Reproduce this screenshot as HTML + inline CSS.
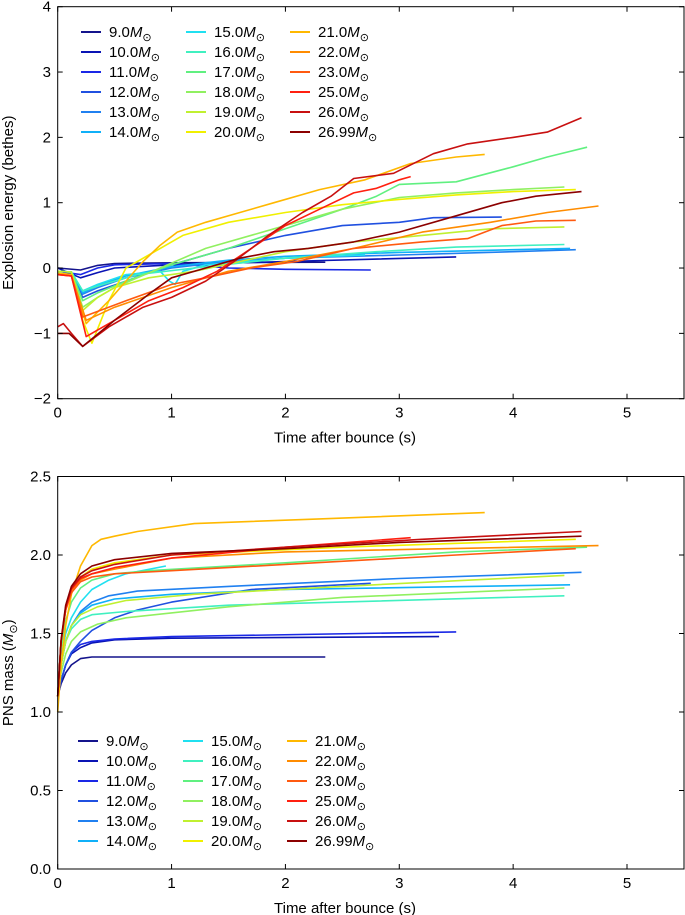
<!DOCTYPE html>
<html><head><meta charset="utf-8"><style>
html,body{margin:0;padding:0;background:#fff;}
svg{display:block;font-family:"Liberation Sans",sans-serif;}
</style></head><body>
<svg id="c" width="685" height="915"></svg>
<script>
const labels=["9.0","10.0","11.0","12.0","13.0","14.0","15.0","16.0","17.0","18.0","19.0","20.0","21.0","22.0","23.0","25.0","26.0","26.99"];
const colors=["#14148c","#0a14b4","#1a28e6","#2050e0","#2080f0","#10b0f8","#20e0f0","#40f0c0","#60f080","#90f060","#c0f030","#f0f000","#ffb800","#ff8c00","#ff5a10","#ff2010","#c81010","#8c0000"];
const energyTicks=[-2,-1,0,1,2,3,4];
const massTicks=[0.0,0.5,1.0,1.5,2.0,2.5];
const timeTicks=[0,1,2,3,4,5];
const energy=[
[[0,0],[0.2,-0.03],[0.35,0.04],[0.5,0.07],[1,0.08],[2.35,0.09]],
[[0,0],[0.2,-0.15],[0.35,-0.07],[0.5,0],[1,0.05],[2,0.1],[3.5,0.17]],
[[0,-0.05],[0.2,-0.1],[0.35,0],[0.5,0.05],[1,0.07],[1.5,0],[2,-0.02],[2.75,-0.03]],
[[0,-0.05],[0.12,-0.06],[0.22,-0.45],[0.35,-0.35],[0.6,-0.2],[1,0.05],[1.5,0.3],[2,0.5],[2.5,0.65],[3,0.7],[3.3,0.77],[3.9,0.78]],
[[0,-0.05],[0.12,-0.06],[0.22,-0.4],[0.35,-0.3],[0.6,-0.15],[1,0],[1.5,0.1],[2,0.15],[3,0.2],[4,0.25],[4.55,0.28]],
[[0,-0.05],[0.12,-0.06],[0.22,-0.38],[0.35,-0.27],[0.6,-0.12],[1,0.02],[1.5,0.12],[2,0.18],[3,0.24],[4,0.28],[4.5,0.3]],
[[0,-0.05],[0.12,-0.06],[0.22,-0.35],[0.35,-0.25],[0.6,-0.1],[0.9,-0.05],[0.98,-0.2],[1.03,-0.25],[1.1,-0.05],[1.3,0.05],[2,0.15],[2.7,0.2]],
[[0,-0.05],[0.12,-0.06],[0.22,-0.35],[0.4,-0.25],[0.7,-0.1],[1.2,0],[2,0.15],[2.8,0.25],[3.5,0.32],[4.45,0.36]],
[[0,-0.05],[0.12,-0.06],[0.22,-0.5],[0.35,-0.38],[0.6,-0.2],[1,0.05],[1.5,0.3],[2,0.6],[2.5,0.9],[2.8,1.1],[3,1.28],[3.5,1.32],[4,1.55],[4.3,1.7],[4.65,1.85]],
[[0,-0.05],[0.12,-0.06],[0.22,-0.6],[0.35,-0.45],[0.5,-0.3],[0.9,0],[1.3,0.3],[1.9,0.6],[2.5,0.9],[3,1.08],[3.5,1.15],[4,1.2],[4.45,1.24]],
[[0,-0.05],[0.12,-0.06],[0.22,-0.65],[0.35,-0.45],[0.5,-0.3],[0.8,-0.15],[1.2,-0.05],[1.6,0.1],[2,0.25],[2.6,0.4],[3.2,0.5],[3.8,0.6],[4.45,0.63]],
[[0,-0.08],[0.12,-0.1],[0.22,-0.8],[0.3,-1.15],[0.45,-0.5],[0.6,0],[0.8,0.2],[1.1,0.5],[1.5,0.7],[2,0.85],[2.5,0.97],[3,1.05],[3.5,1.12],[4,1.17],[4.55,1.2]],
[[0,-0.08],[0.12,-0.1],[0.25,-0.85],[0.45,-0.5],[0.75,0.1],[0.9,0.35],[1.05,0.55],[1.3,0.7],[1.6,0.85],[1.9,1.0],[2.3,1.2],[2.7,1.35],[3.1,1.6],[3.5,1.7],[3.75,1.74]],
[[0,-0.1],[0.12,-0.12],[0.25,-0.8],[0.5,-0.6],[1,-0.3],[1.5,-0.05],[2,0.1],[2.6,0.3],[3.2,0.55],[3.8,0.7],[4.3,0.85],[4.75,0.95]],
[[0,-0.1],[0.12,-0.12],[0.22,-0.75],[0.6,-0.5],[1,-0.25],[1.3,-0.15],[1.7,0],[2.1,0.1],[2.6,0.3],[3.2,0.4],[3.6,0.45],[3.9,0.65],[4.2,0.72],[4.55,0.73]],
[[0,-0.1],[0.12,-0.12],[0.25,-1.05],[0.45,-0.85],[0.8,-0.5],[1.1,-0.3],[1.4,-0.05],[1.7,0.3],[2,0.65],[2.3,0.9],[2.6,1.15],[2.8,1.22],[3,1.35],[3.1,1.4]],
[[0,-0.9],[0.05,-0.85],[0.12,-1.0],[0.22,-1.2],[0.45,-0.9],[0.75,-0.6],[1,-0.45],[1.3,-0.2],[1.55,0.1],[1.85,0.5],[2.15,0.85],[2.4,1.1],[2.6,1.37],[2.95,1.45],[3.3,1.75],[3.6,1.9],[4,2.0],[4.3,2.08],[4.6,2.3]],
[[0,-1.0],[0.1,-1.0],[0.22,-1.2],[0.5,-0.8],[0.8,-0.4],[1,-0.15],[1.3,0],[1.6,0.15],[1.9,0.25],[2.2,0.3],[2.6,0.4],[3,0.55],[3.5,0.8],[3.9,1.0],[4.2,1.1],[4.6,1.17]]
];
const mass=[
[[0,1.1],[0.03,1.18],[0.07,1.25],[0.12,1.3],[0.2,1.34],[0.3,1.35],[1,1.35],[2.35,1.35]],
[[0,1.1],[0.03,1.2],[0.07,1.3],[0.12,1.37],[0.2,1.41],[0.3,1.44],[0.5,1.46],[1,1.47],[3.35,1.48]],
[[0,1.1],[0.03,1.2],[0.07,1.3],[0.12,1.38],[0.2,1.43],[0.3,1.45],[0.5,1.465],[1,1.48],[3.5,1.51]],
[[0,1.1],[0.03,1.2],[0.07,1.3],[0.12,1.38],[0.2,1.45],[0.3,1.52],[0.5,1.6],[0.7,1.65],[1,1.7],[1.7,1.78],[2.75,1.82]],
[[0,1.1],[0.03,1.3],[0.07,1.45],[0.12,1.55],[0.2,1.64],[0.3,1.7],[0.45,1.74],[0.7,1.77],[1.5,1.8],[3,1.85],[4.6,1.89]],
[[0,1.1],[0.03,1.3],[0.07,1.45],[0.12,1.55],[0.2,1.63],[0.3,1.68],[0.5,1.72],[1,1.75],[2,1.78],[4.5,1.81]],
[[0,1.1],[0.03,1.35],[0.07,1.5],[0.12,1.6],[0.2,1.7],[0.3,1.78],[0.45,1.84],[0.6,1.88],[0.95,1.93]],
[[0,1.1],[0.03,1.3],[0.07,1.45],[0.12,1.53],[0.2,1.59],[0.3,1.62],[0.6,1.64],[1.5,1.68],[4.45,1.74]],
[[0,1.1],[0.03,1.4],[0.07,1.58],[0.12,1.7],[0.2,1.79],[0.3,1.84],[0.5,1.88],[0.8,1.9],[2,1.95],[3.5,2.02],[4.65,2.05]],
[[0,1.1],[0.03,1.25],[0.07,1.37],[0.12,1.45],[0.2,1.51],[0.35,1.56],[0.6,1.6],[1.5,1.67],[2.5,1.73],[4.45,1.79]],
[[0,1.1],[0.03,1.3],[0.07,1.45],[0.12,1.55],[0.2,1.62],[0.35,1.67],[0.6,1.71],[1.2,1.75],[2.5,1.8],[4.45,1.87]],
[[0,1.1],[0.03,1.45],[0.07,1.65],[0.12,1.77],[0.2,1.86],[0.3,1.91],[0.5,1.95],[1,2.0],[2.5,2.05],[4.55,2.1]],
[[0,1.0],[0.03,1.3],[0.07,1.55],[0.12,1.75],[0.2,1.93],[0.3,2.06],[0.38,2.1],[0.5,2.12],[0.7,2.15],[1.2,2.2],[2.3,2.23],[3.75,2.27]],
[[0,1.1],[0.03,1.45],[0.07,1.65],[0.12,1.76],[0.2,1.84],[0.3,1.88],[0.5,1.91],[1,1.98],[2,2.02],[4.75,2.06]],
[[0,1.1],[0.03,1.45],[0.07,1.65],[0.12,1.76],[0.2,1.83],[0.3,1.86],[0.5,1.88],[1,1.9],[2,1.94],[3.5,2.0],[4.55,2.04]],
[[0,1.1],[0.03,1.45],[0.07,1.66],[0.12,1.78],[0.2,1.85],[0.3,1.88],[0.5,1.92],[1,1.98],[2,2.05],[3.1,2.11]],
[[0,1.1],[0.03,1.45],[0.07,1.67],[0.12,1.79],[0.2,1.86],[0.3,1.9],[0.5,1.94],[1,2.0],[2,2.05],[3.2,2.1],[4.6,2.15]],
[[0,1.1],[0.03,1.46],[0.07,1.68],[0.12,1.8],[0.2,1.88],[0.3,1.93],[0.5,1.97],[1,2.01],[2,2.04],[3,2.08],[4.6,2.12]]
];
const NS="http://www.w3.org/2000/svg";
const svg=document.getElementById('c');
function mk(tag,attrs,parent){const e=document.createElementNS(NS,tag);for(const k in attrs)e.setAttribute(k,attrs[k]);(parent||svg).appendChild(e);return e;}
function panel(o){
  const g=mk('g',{});
  
  
  const L=57.7,R=684,T=o.top,B=o.bot;
  const xs=t=>L+t*(627-L)/5;
  const ys=v=>B-(v-o.ymin)/(o.ymax-o.ymin)*(B-T);
  o.data.forEach((s,i)=>{
    const p=mk('path',{d:s.map((d,j)=>(j?'L':'M')+xs(d[0]).toFixed(1)+','+ys(d[1]).toFixed(1)).join(''),fill:'none',stroke:colors[i],'stroke-width':1.6,'stroke-linejoin':'round'},g);
    
    
  });
  const fr=mk('rect',{x:L,y:T,width:R-L,height:B-T,fill:'none',stroke:'#000','stroke-width':1},g);
  
  
  timeTicks.forEach(t=>{
    const x=xs(t);
    mk('line',{x1:x,x2:x,y1:B,y2:B-5,stroke:'#000'},g);
    mk('line',{x1:x,x2:x,y1:T,y2:T+5,stroke:'#000'},g);
    const tx=mk('text',{x:x,y:B+19,'font-size':15,'text-anchor':'middle'},g);
    tx.textContent=t;
    
    
  });
  o.ticks.forEach(v=>{
    const y=ys(v);
    mk('line',{x1:L,x2:L+5,y1:y,y2:y,stroke:'#000'},g);
    mk('line',{x1:R,x2:R-5,y1:y,y2:y,stroke:'#000'},g);
    const tx=mk('text',{x:51,y:y+5,'font-size':15,'text-anchor':'end'},g);
    tx.textContent=o.fmt(v);
    
    
  });
  const xt=mk('text',{x:345,y:B+44,'font-size':15,'text-anchor':'middle'},g);
  xt.textContent='Time after bounce (s)';
  
  
  const yt=mk('text',{transform:'translate(13,'+((T+B)/2)+') rotate(-90)','font-size':15,'text-anchor':'middle'},g);
  yt.innerHTML=o.ytitle;
  
  
  labels.forEach((l,i)=>{
    const col=Math.floor(i/6),row=i%6;
    const lx=o.lx[col],ly=o.ly+row*20;
    const lg=mk('g',{},g);
    
    
    mk('line',{x1:lx,x2:lx+20,y1:ly,y2:ly,stroke:colors[i],'stroke-width':2},lg);
    const tx=mk('text',{x:lx+28,y:ly+5,'font-size':15},lg);
    tx.innerHTML=l+'<tspan font-style="italic">M</tspan><tspan font-size="11" dy="4">⊙</tspan>';
  });
}
panel({name:'explosion-energy-panel',top:6.7,bot:398.7,ymin:-2,ymax:4,ticks:energyTicks,fmt:v=>v<0?'−'+(-v):String(v),data:energy,ytitle:'Explosion energy (bethes)',lx:[81,186,290],ly:32});
panel({name:'pns-mass-panel',top:476.5,bot:869,ymin:0,ymax:2.5,ticks:massTicks,fmt:v=>v.toFixed(1),data:mass,ytitle:'PNS mass (<tspan font-style="italic">M</tspan><tspan font-size="11" dy="4">⊙</tspan><tspan dy="-4">)</tspan>',lx:[78,183,287],ly:741});
</script>
</body></html>
